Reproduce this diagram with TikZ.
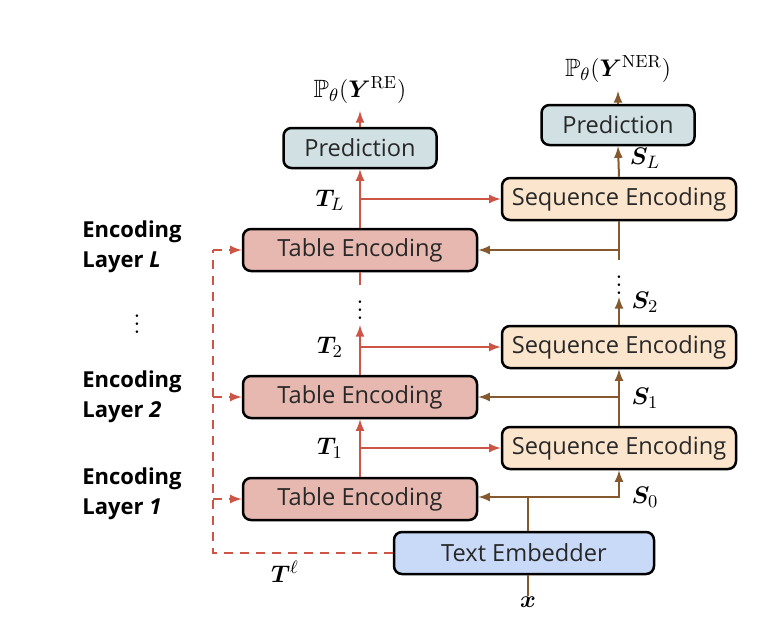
\documentclass[tikz,border=0pt]{standalone}
\usepackage{amsmath,amssymb,bm}
\usepackage{fontspec}
\newfontfamily\boxfont{Open Sans}
\usetikzlibrary{arrows,calc}
\definecolor{tblfill}{RGB}{230,184,175}
\definecolor{seqfill}{RGB}{252,229,205}
\definecolor{predfill}{RGB}{208,224,227}
\definecolor{embfill}{RGB}{201,218,248}
\definecolor{redline}{RGB}{204,85,70}
\definecolor{brownline}{RGB}{133,88,45}
\definecolor{boxtext}{RGB}{40,40,40}

\begin{document}
\begin{tikzpicture}[x=0.5pt,y=-0.5pt,
    block/.style={draw=black,line width=1.25pt,rounded corners=4pt,inner sep=0pt,
      text=boxtext,font=\boxfont\fontsize{11.8}{14}\selectfont},
    tbl/.style={block,fill=tblfill,minimum width=117pt,minimum height=21pt},
    seqbox/.style={block,fill=seqfill,minimum width=117pt,minimum height=21pt},
    predbox/.style={block,fill=predfill,minimum width=76.5pt,minimum height=20pt},
    embbox/.style={block,fill=embfill,minimum width=130pt,minimum height=21pt},
    redln/.style={draw=redline,line width=1pt},
    brnln/.style={draw=brownline,line width=1pt},
    dashln/.style={draw=redline,line width=1pt,dash pattern=on 4.5pt off 3.5pt},
    mlbl/.style={inner sep=0pt,font=\fontsize{12.5}{15}\selectfont},
    dotlbl/.style={inner sep=0pt,font=\fontsize{13.5}{16}\selectfont},
    layer/.style={inner sep=0pt,align=left,anchor=west,
      font=\boxfont\bfseries\fontsize{11}{15}\selectfont}]
  \useasboundingbox (0,0) rectangle (782,638);

  % boxes
  \node[tbl] (tab1) at (360,499) {Table Encoding};
  \node[tbl] (tab2) at (360,397) {Table Encoding};
  \node[tbl] (tabL) at (360,250) {Table Encoding};
  \node[seqbox] (seq1) at (619,448) {Sequence Encoding};
  \node[seqbox] (seq2) at (619,347) {Sequence Encoding};
  \node[seqbox] (seqL) at (619,199) {Sequence Encoding};
  \node[predbox] (predRE) at (360,148) {Prediction};
  \node[predbox] (predNER) at (618,125) {Prediction};
  \node[embbox] (emb) at (524,553) {Text Embedder};

  % outputs and input
  \node[mlbl,anchor=south] (outRE) at (360,104) {$\mathbb{P}_\theta(\bm{Y}^{\mathrm{RE}})$};
  \node[mlbl,anchor=south] (outNER) at (618,83) {$\mathbb{P}_\theta(\bm{Y}^{\mathrm{NER}})$};
  \node[mlbl] (xin) at (528,602) {$\bm{x}$};
  \coordinate (reTip) at (360,111);
  \coordinate (nerTip) at (618,91);

  % table column
  \coordinate (tGapL) at (360,285);
  \coordinate (tTip2) at (360,325);
  \node[dotlbl] (tDots) at (360,304) {$\vdots$};
  \draw[redln,-latex] (tab1.north) -- (tab2.south);
  \draw[redln,-latex] (tab2.north) -- (tTip2);
  \draw[redln] (tabL.south) -- (tGapL);
  \draw[redln,-latex] (tabL.north) -- (predRE.south);
  \draw[redln,-latex] (predRE.north) -- (reTip);
  \draw[redln,-latex] (tab1.north |- seq1) -- (seq1.west);
  \draw[redln,-latex] (tab2.north |- seq2) -- (seq2.west);
  \draw[redln,-latex] (tabL.north |- seqL) -- (seqL.west);

  % sequence column
  \coordinate (s0) at (528,497);
  \coordinate (sGapL) at (619,260);
  \coordinate (sTip2) at (619,297);
  \node[dotlbl] (sDots) at (619,279) {$\vdots$};
  \draw[brnln] (xin.north) -- (xin.north |- emb.south);
  \draw[brnln] (emb.north -| s0) -- (s0);
  \draw[brnln,-latex] (s0) -- (s0 -| tab1.east);
  \draw[brnln,-latex] (s0) -| (seq1.south);
  \draw[brnln,-latex] (seq1.north) -- (seq2.south);
  \draw[brnln,-latex] (seq1.north |- tab2) -- (tab2.east);
  \draw[brnln,-latex] (seq2.north) -- (sTip2);
  \draw[brnln] (seqL.south) -- (sGapL);
  \draw[brnln,-latex] (seqL.south |- tabL) -- (tabL.east);
  \draw[brnln,-latex] (seqL.north) -- (predNER.south);
  \draw[brnln,-latex] (predNER.north) -- (nerTip);

  % dashed feed of T^l
  \coordinate (dashCol) at (213,553);
  \draw[dashln] (emb.west) -- (dashCol) -- (dashCol |- tabL);
  \foreach \tb in {tab1,tab2,tabL}
    \draw[dashln,-latex] (dashCol |- \tb) -- (\tb.west);

  % labels
  \node[mlbl] (lT1) at (330,448) {$\bm{T}_1$};
  \node[mlbl] (lT2) at (330,347) {$\bm{T}_2$};
  \node[mlbl] (lTL) at (330,200) {$\bm{T}_L$};
  \node[mlbl] (lS0) at (645,497) {$\bm{S}_0$};
  \node[mlbl] (lS1) at (645,398) {$\bm{S}_1$};
  \node[mlbl] (lS2) at (645,302) {$\bm{S}_2$};
  \node[mlbl] (lSL) at (645,158) {$\bm{S}_L$};
  \node[mlbl] (lTl) at (285,572) {$\bm{T}^{\ell}$};

  \node[layer] (layL) at (82,247) {Encoding\\Layer \textit{L}};
  \node[layer] (lay2) at (82,397) {Encoding\\Layer \textit{2}};
  \node[layer] (lay1) at (82,494) {Encoding\\Layer \textit{1}};
  \node[dotlbl] (layDots) at (137,318) {$\vdots$};
\end{tikzpicture}
\end{document}
